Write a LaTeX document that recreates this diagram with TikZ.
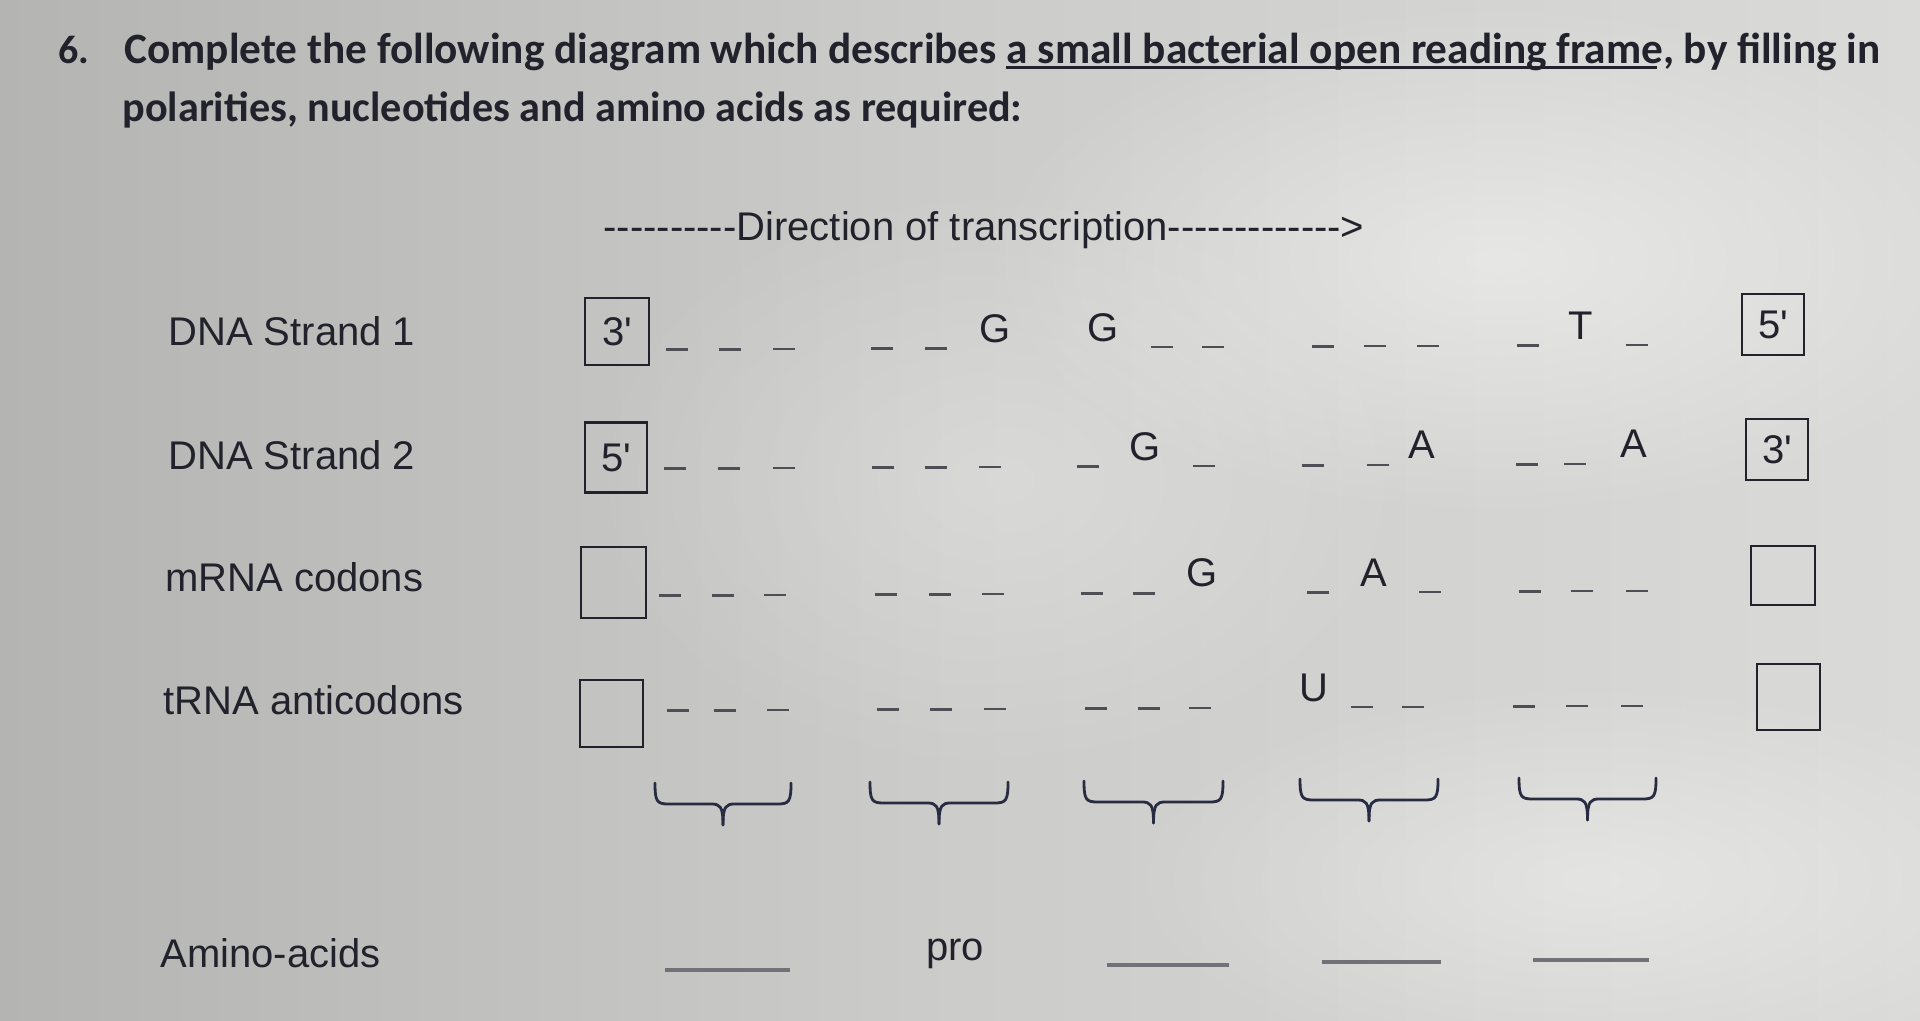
\documentclass[tikz,border=0pt]{standalone}
\usepackage{fontspec}
\usepackage{graphicx}
\newfontfamily\arialf{Liberation Sans}
\newfontfamily\titlef{Carlito}
\usetikzlibrary{fadings}
\definecolor{bgA}{RGB}{180,180,178}
\definecolor{bgB}{RGB}{204,204,202}
\definecolor{bgC}{RGB}{218,218,216}
\definecolor{ink}{RGB}{34,34,44}
\definecolor{dashc}{RGB}{78,78,86}
\definecolor{bracec}{RGB}{40,44,66}
\tikzfading[name=glow, inner color=transparent!20, outer color=transparent!100]
\tikzset{
  txt/.style={font=\arialf\fontsize{20pt}{24pt}\selectfont, text=ink, inner sep=0pt},
  lbl/.style={txt, anchor=base west},
  letter/.style={txt, anchor=base},
  endbox/.style={draw=ink, line width=1.4pt, font=\arialf\fontsize{20pt}{24pt}\selectfont, text=ink, inner sep=0pt},
  blank/.style={draw=dashc, line width=1.3pt},
  ablank/.style={draw=dashc!80, line width=1.6pt},
  bracestyle/.style={draw=bracec, line width=1.4pt, line cap=round, line join=round},
  titletxt/.style={font=\titlef\bfseries\fontsize{20pt}{24pt}\selectfont, text=ink, inner sep=0pt, anchor=base west}
}
\newcommand\dashrow[2]{\foreach \x in {#2}{\draw[blank] (\x-11,{#1-0.005*(\x-600)}) -- (\x+11,{#1-0.005*(\x-600)});}}
\newcommand\lettersrow[3]{\foreach \x/\t [count=\i] in {#3}{\node[letter] (#1\i) at (\x,{#2-0.005*(\x-600)-6}) {\t};}}
\newcommand\curlybrace[3]{%
  \pgfmathsetmacro\xc{(#1+#2)/2}
  \draw[bracestyle] (#1,782+#3) .. controls (#1,801+#3) and (#1+2,803+#3) .. (#1+14,803+#3) -- (\xc-12,803+#3) .. controls (\xc-3,803+#3) and (\xc,805+#3) .. (\xc,824+#3);
  \draw[bracestyle] (#2,782+#3) .. controls (#2,801+#3) and (#2-2,803+#3) .. (#2-14,803+#3) -- (\xc+12,803+#3) .. controls (\xc+3,803+#3) and (\xc,805+#3) .. (\xc,824+#3);
}
\begin{document}
\begin{tikzpicture}[x=0.5pt,y=-0.5pt]
\useasboundingbox (0,0) rectangle (1920,1021);
% photo background
\fill[left color=bgA, right color=bgC, middle color=bgB] (0,0) rectangle (1920,1021);
\fill[white, path fading=glow, fill opacity=0.55] (1500,260) ellipse (520 and 260);
\fill[white, path fading=glow, fill opacity=0.45] (1600,880) ellipse (480 and 200);
\fill[white, path fading=glow, fill opacity=0.3] (1000,480) ellipse (420 and 300);

% title
\node[titletxt] (qnum) at (58,64) {6.};
\node[titletxt] (qline1) at (124,64) {\resizebox{878pt}{!}{Complete the following diagram which describes a small bacterial open reading frame, by filling in}};
\node[titletxt] (qline2) at (122,122) {\resizebox{450pt}{!}{polarities, nucleotides and amino acids as required:}};
\draw[ink, line width=1.5pt] (1006,68) -- (1657,68);

% direction
\node[lbl] (dir) at (603,241) {----------Direction of transcription------------->};

% row labels
\node[lbl] (lab1) at (168,346) {DNA Strand 1};
\node[lbl] (lab2) at (168,469) {DNA Strand 2};
\node[lbl] (lab3) at (165,591) {mRNA codons};
\node[lbl] (lab4) at (163,714) {tRNA anticodons};
\node[lbl] (lab5) at (160,967) {Amino-acids};

% end boxes
\node[endbox, minimum width=32pt, minimum height=33.5pt] (b1l) at (617,331.5) {3'};
\node[endbox, minimum width=31pt, minimum height=30.5pt] (b1r) at (1773,324.5) {5'};
\node[endbox, minimum width=31pt, minimum height=35pt] (b2l) at (616,457.5) {5'};
\node[endbox, minimum width=31pt, minimum height=30.5pt] (b2r) at (1777,449.5) {3'};
\node[endbox, minimum width=32.5pt, minimum height=35.5pt] (b3l) at (613.5,582.5) {};
\node[endbox, minimum width=32pt, minimum height=29.5pt] (b3r) at (1783,575.5) {};
\node[endbox, minimum width=31.5pt, minimum height=33.5pt] (b4l) at (611.5,713.5) {};
\node[endbox, minimum width=31.5pt, minimum height=33pt] (b4r) at (1788.5,697) {};

% row 1: DNA strand 1
\dashrow{350}{677,730,784,882,936,1162,1213,1323,1375,1428,1528,1637}
\lettersrow{r1n}{350}{995/G,1103/G,1581/T}
% row 2: DNA strand 2
\dashrow{469}{675,729,784,883,936,990,1088,1204,1313,1378,1527,1575}
\lettersrow{r2n}{469}{1145/G,1422/A,1634/A}
% row 3: mRNA
\dashrow{596}{670,723,775,886,940,993,1092,1144,1318,1430,1530,1582,1637}
\lettersrow{r3n}{596}{1202/G,1374/A}
% row 4: tRNA
\dashrow{711}{678,725,778,888,941,995,1096,1149,1200,1362,1413,1524,1577,1632}
\lettersrow{r4n}{711}{1314/U}

% braces
\curlybrace{655}{791}{1}
\curlybrace{870}{1008}{0}
\curlybrace{1084}{1223}{-1}
\curlybrace{1300}{1438}{-3}
\curlybrace{1519}{1656}{-4}

% amino acids
\draw[ablank] (665,970) -- (790,970);
\node[letter] (aa2) at (955,960) {pro};
\draw[ablank] (1107,965) -- (1229,965);
\draw[ablank] (1322,962) -- (1441,962);
\draw[ablank] (1533,960) -- (1649,960);
\end{tikzpicture}
\end{document}
